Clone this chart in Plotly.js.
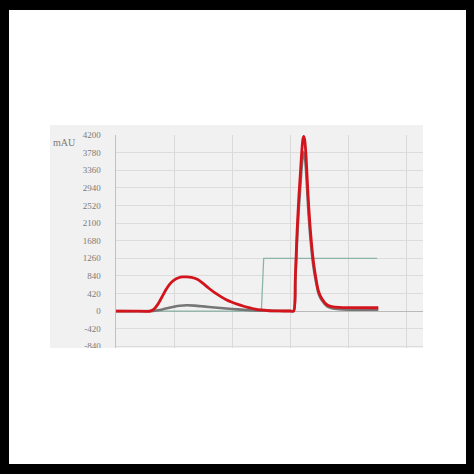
<!DOCTYPE html>
<html>
<head>
<meta charset="utf-8">
<script src="https://cdn.plot.ly/plotly-3.0.1.min.js"></script>
<style>
  html, body { margin: 0; padding: 0; background: #000; }
  #frame { position: absolute; left: 9px; top: 10px; width: 457px; height: 454px; background: #fff; }
  #chart { position: absolute; left: 50px; top: 125px; width: 373px; height: 223px; overflow: hidden; }
</style>
</head>
<body>
<div id="frame"></div>
<div id="chart"></div>
<script>
// retention time (grid step = 1) and absorbance in mAU
var redTime = [0, 0.3, 0.59, 0.65, 0.72, 0.79, 0.86, 0.93, 1.0, 1.08, 1.15, 1.22, 1.3, 1.4, 1.5, 1.6, 1.7, 1.8, 1.9, 2.0,
  2.1, 2.2, 2.3, 2.4, 2.5, 2.6, 2.7, 2.8, 3.0, 3.06, 3.09, 3.12, 3.15, 3.18, 3.2, 3.22, 3.235, 3.25, 3.27, 3.29,
  3.31, 3.34, 3.37, 3.4, 3.44, 3.49, 3.55, 3.64, 3.72, 3.85, 4.0, 4.52];
var redSignal = [0, 0, 0, 40, 160, 330, 510, 650, 740, 795, 815, 817, 805, 760, 660, 545, 440, 350, 270, 210,
  160, 115, 80, 48, 28, 14, 6, 3, 2, 0, 800, 1900, 2700, 3350, 3780, 4100, 4170, 4100, 3800, 3300,
  2750, 2100, 1600, 1200, 820, 470, 290, 145, 108, 88, 82, 80];

var grayTime = [0, 0.59, 0.7, 0.8, 0.9, 1.0, 1.1, 1.22, 1.35, 1.5, 1.7, 1.9, 2.1, 2.3, 2.5, 2.7, 3.0, 3.06, 3.09, 3.12,
  3.15, 3.18, 3.2, 3.22, 3.235, 3.25, 3.27, 3.29, 3.31, 3.34, 3.37, 3.4, 3.44, 3.49, 3.55, 3.64, 3.72, 3.85, 4.0, 4.52];
var graySignal = [0, 0, 15, 40, 75, 105, 128, 138, 130, 112, 85, 60, 40, 22, 10, 4, 2, 0, 730, 1700,
  2450, 3050, 3450, 3720, 3790, 3730, 3450, 3000, 2500, 1900, 1450, 1080, 740, 420, 250, 110, 65, 42, 35, 32];

var stepTime = [0, 2.505, 2.545, 4.5];
var stepSignal = [0, 0, 1260, 1260];

var yTickVals = [-840, -420, 0, 420, 840, 1260, 1680, 2100, 2520, 2940, 3360, 3780, 4200];
var yTickText = ['-840', '-420', '0', '420', '840', '1260', '1680', '2100', '2520', '2940', '3360', '3780', '4200'];

var traces = [
  {
    type: 'scatter', mode: 'lines', x: stepTime, y: stepSignal,
    line: { color: '#8db4a8', width: 1.3 }
  },
  {
    type: 'scatter', mode: 'lines', x: grayTime, y: graySignal,
    line: { color: '#767676', width: 2.6, shape: 'spline', smoothing: 0.8 }
  },
  {
    type: 'scatter', mode: 'lines', x: redTime, y: redSignal,
    line: { color: '#d3141c', width: 2.8, shape: 'spline', smoothing: 0.8 }
  }
];

var layout = {
  width: 373,
  height: 223,
  margin: { l: 66, r: 0, t: 10, b: 0 },
  paper_bgcolor: '#f1f1f1',
  plot_bgcolor: '#f1f1f1',
  showlegend: false,
  xaxis: {
    range: [0, 5.29],
    tick0: 0,
    dtick: 1,
    showticklabels: false,
    gridcolor: '#d9d9d9',
    gridwidth: 1,
    zeroline: false,
    showline: false
  },
  yaxis: {
    range: [-881, 4202],
    tickmode: 'array',
    tickvals: yTickVals,
    ticktext: yTickText,
    ticklabeloverflow: 'allow',
    tickfont: { family: 'Liberation Serif', size: 9, color: '#7a7a7a' },
    ticklabelstandoff: 12,
    gridcolor: '#dcdcdc',
    gridwidth: 1,
    zeroline: true,
    zerolinecolor: '#b9b9b9',
    zerolinewidth: 1,
    showline: true,
    linecolor: '#c2c2c2',
    linewidth: 1.5
  },
  annotations: [{
    text: 'mAU',
    xref: 'paper', yref: 'paper',
    x: -0.167, y: 0.967,
    xanchor: 'center', yanchor: 'middle',
    showarrow: false,
    font: { family: 'Liberation Serif', size: 10, color: '#7a7a7a' }
  }]
};

Plotly.newPlot('chart', traces, layout, { displayModeBar: false, staticPlot: true });
</script>
</body>
</html>
